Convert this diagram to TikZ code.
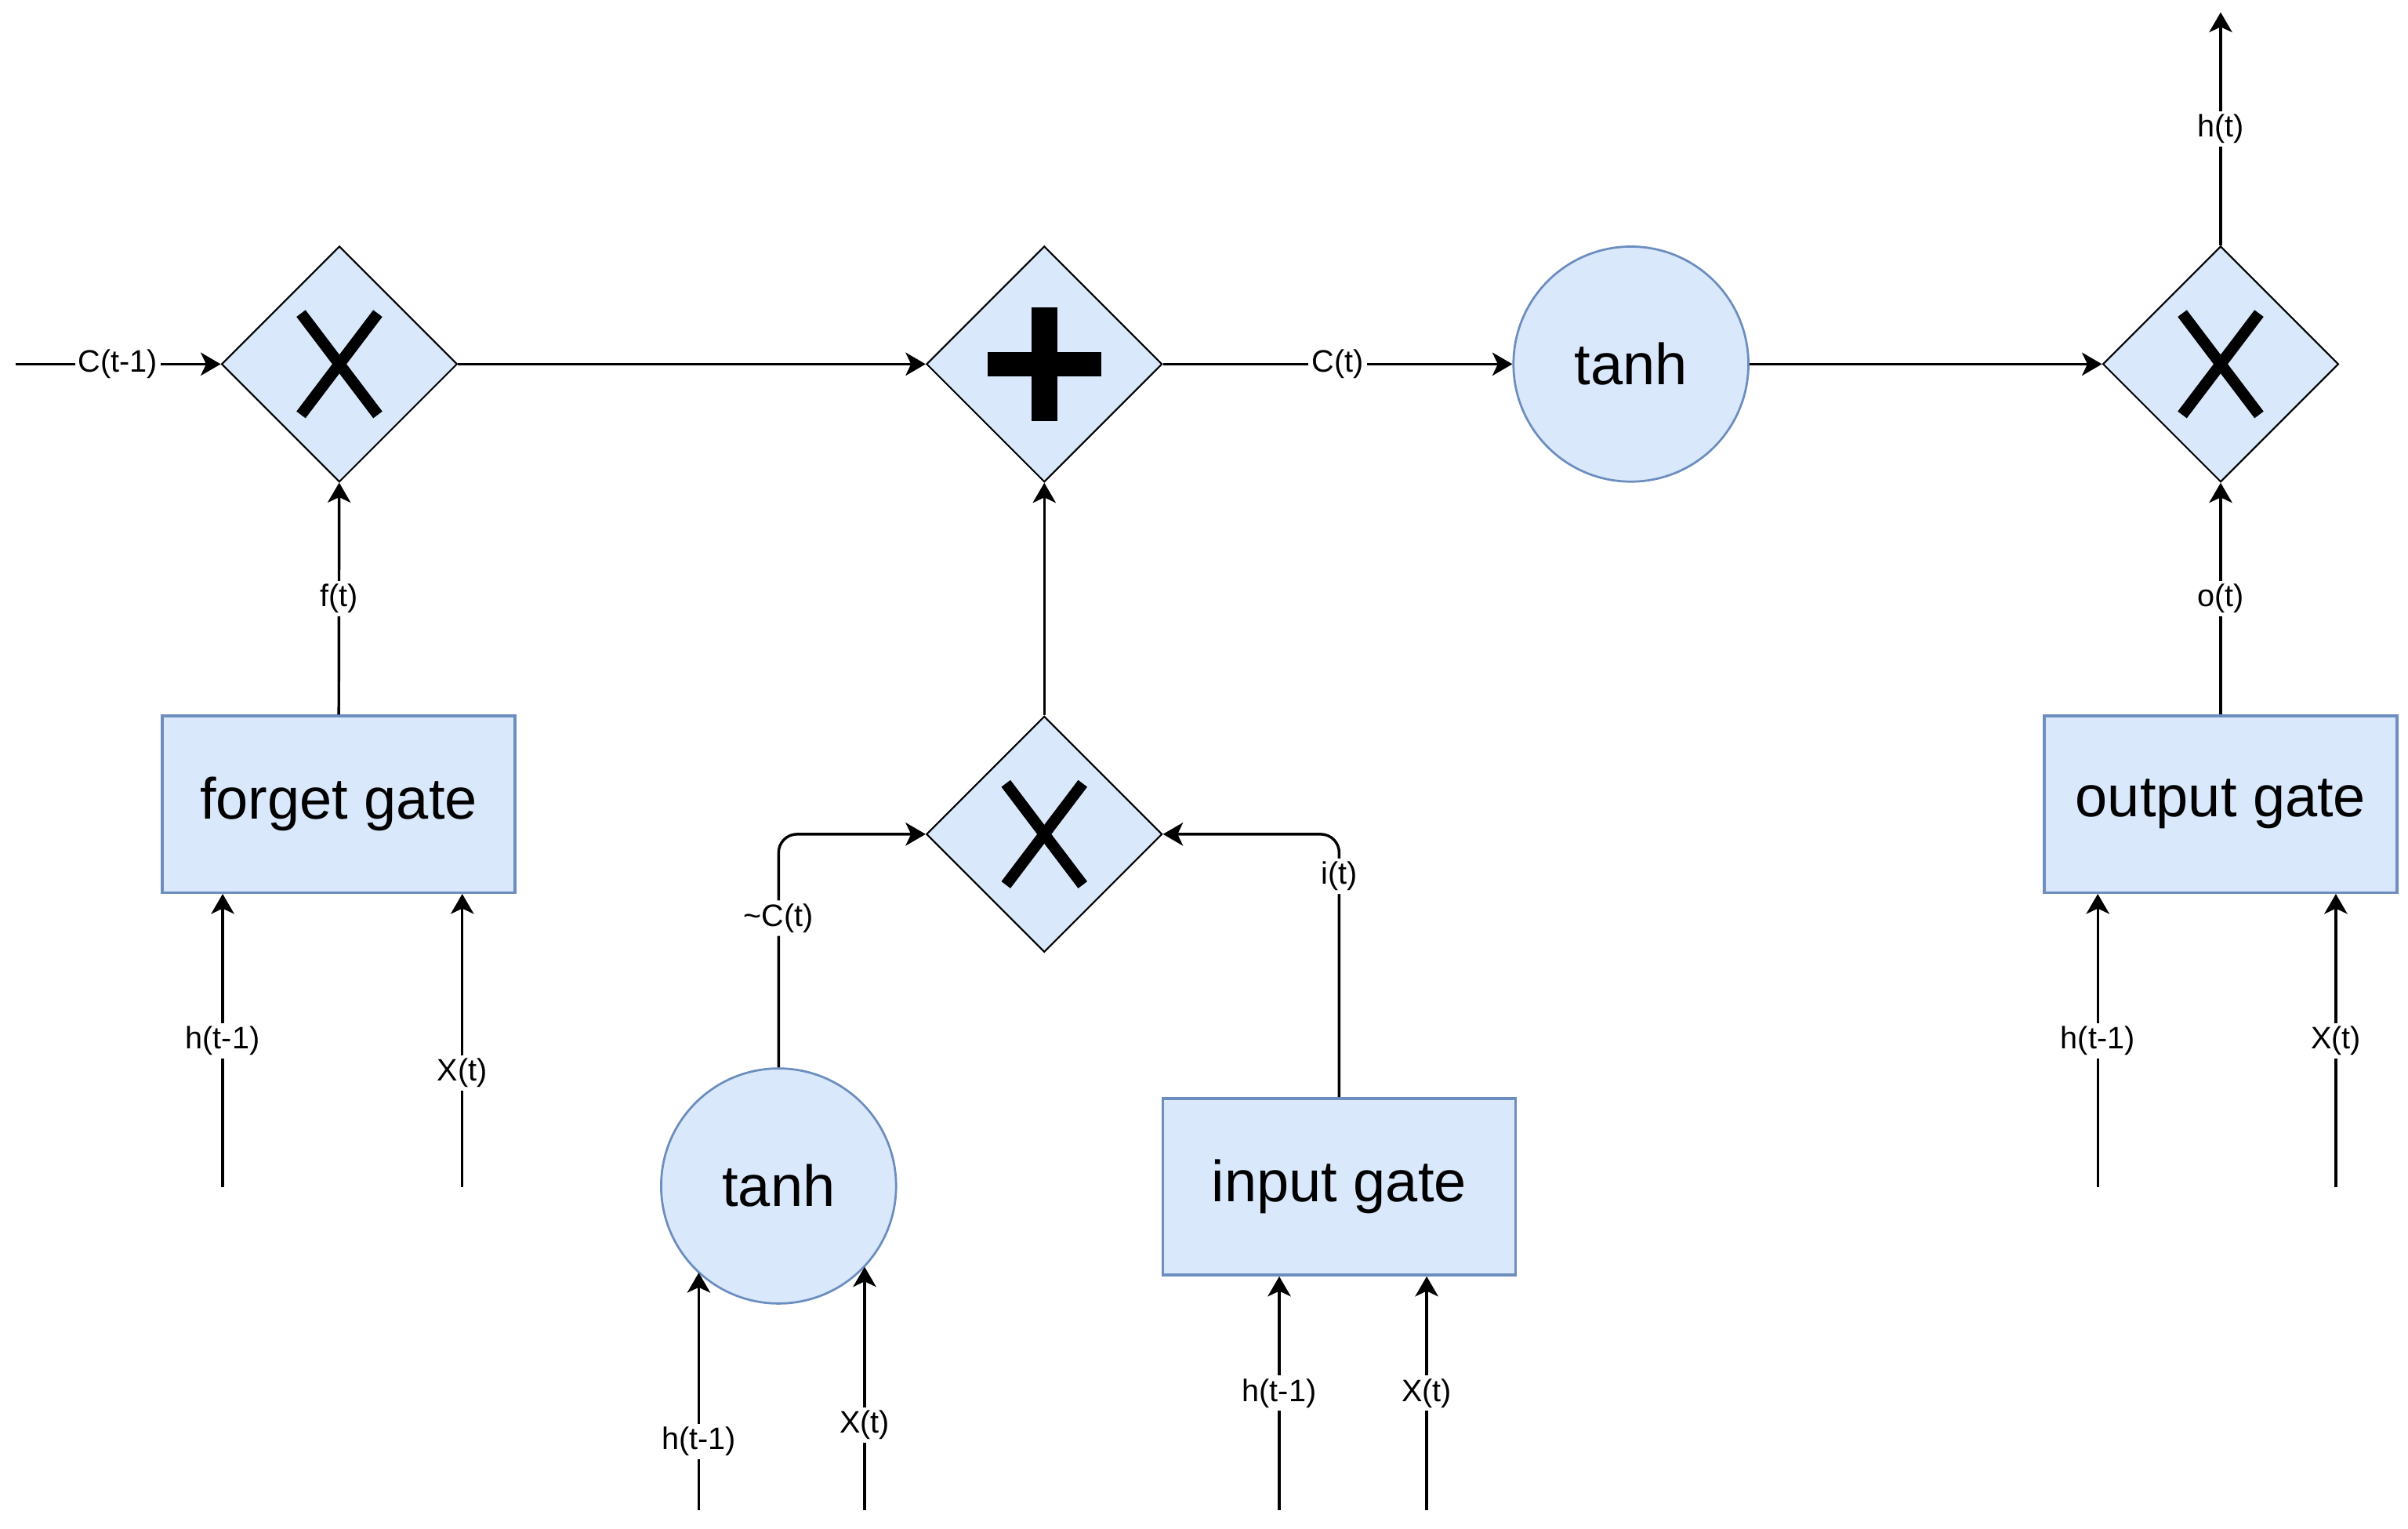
\documentclass[tikz,border=0pt]{standalone}
\usepackage{fontspec}
\setmainfont{Liberation Sans}
\usetikzlibrary{shapes.geometric,arrows.meta}

\definecolor{gatefill}{HTML}{DAE8FC}
\definecolor{gatedraw}{HTML}{6C8EBF}
\newcommand{\gatefont}{\fontsize{21.5pt}{25pt}\selectfont}
\newcommand{\edgefont}{\fontsize{11.5pt}{13pt}\selectfont}

\begin{document}
\begin{tikzpicture}[x=0.2mm,y=-0.2mm]
  \tikzset{op/.style = {shape=diamond,draw,fill=gatefill,line width=0.6pt,minimum size=30.7mm,inner sep=0pt}}
  \tikzset{timesop/.style = {op,path picture={\draw[black,line width=4.2pt] (path picture bounding box.center) ++(-25,-33) -- ++(50,66) ++(0,-66) -- ++(-50,66);}}}
  \tikzset{plusop/.style = {op,path picture={\fill[black] (path picture bounding box.center) ++(-37,-8) rectangle ++(74,16);
      \fill[black] (path picture bounding box.center) ++(-8.5,-37) rectangle ++(17,74);}}}
  \tikzset{gate/.style = {shape=rectangle,draw=gatedraw,fill=gatefill,line width=1pt,minimum width=45.9mm,minimum height=23mm,font=\gatefont}}
  \tikzset{act/.style = {shape=circle,draw=gatedraw,fill=gatefill,line width=0.8pt,minimum size=30.6mm,inner sep=0pt,font=\gatefont}}
  \tikzset{edge/.style = {-{Stealth[length=2.6mm,width=3mm,inset=0.7mm]},line width=1pt}}
  \tikzset{lbl/.style = {fill=white,inner sep=1.2pt,font=\edgefont}}
  \useasboundingbox (0,0) rectangle (1568,995);

	\node[timesop] (mulF) at (221,237) {};
	\node[plusop] (addC) at (680,237) {};
	\node[act] (tanhC) at (1062,237) {tanh};
	\node[timesop] (mulO) at (1446,237) {};
	\node[gate] (forget) at (220.5,523.5) {forget gate};
	\node[timesop] (mulI) at (680,543) {};
	\node[act] (tanhB) at (507,772) {tanh};
	\node[gate] (input) at (872,772.5) {input gate};
	\node[gate] (output) at (1446,523.5) {output gate};
	\coordinate (cprev) at (10,237);
	\coordinate (hnext) at (1446,8);

	\draw[edge] (cprev) -- (mulF) node[lbl,midway] {C(t-1)};
	\draw[edge] (mulF) -- (addC);
	\draw[edge] (addC) -- (tanhC) node[lbl,midway] {C(t)};
	\draw[edge] (tanhC) -- (mulO);
	\draw[edge] (mulO) -- (hnext) node[lbl,midway] {h(t)};
	\draw[edge] (forget) -- (mulF) node[lbl,midway] {f(t)};
	\draw[edge] (output) -- (mulO) node[lbl,midway] {o(t)};
	\draw[edge] (mulI) -- (addC);
	\draw[edge,rounded corners=2.4mm] (tanhB) |- (mulI) node[lbl,pos=0.32] {\textasciitilde C(t)};
	\draw[edge,rounded corners=2.4mm] (input) |- (mulI) node[lbl,pos=0.42] {i(t)};

    \foreach \n/\x/\y/\tgt/\txt/\p in {fh/145/773/forget.south/h(t-1)/0.5,
        fx/301/773/forget.south/X(t)/0.39,
        th/455/983/tanhB.-133/h(t-1)/0.29,
        tx/563/983/tanhB.-43/X(t)/0.35,
        ih/833/983/input.south/h(t-1)/0.5,
        ix/929/983/input.south/X(t)/0.5,
        oh/1366/773/output.south/h(t-1)/0.5,
        ox/1521/773/output.south/X(t)/0.5}
    {
      \coordinate (\n) at (\x,\y);
      \draw[edge] (\n) -- (\n |- \tgt) node[lbl,pos=\p] {\txt};
    }
\end{tikzpicture}
\end{document}
